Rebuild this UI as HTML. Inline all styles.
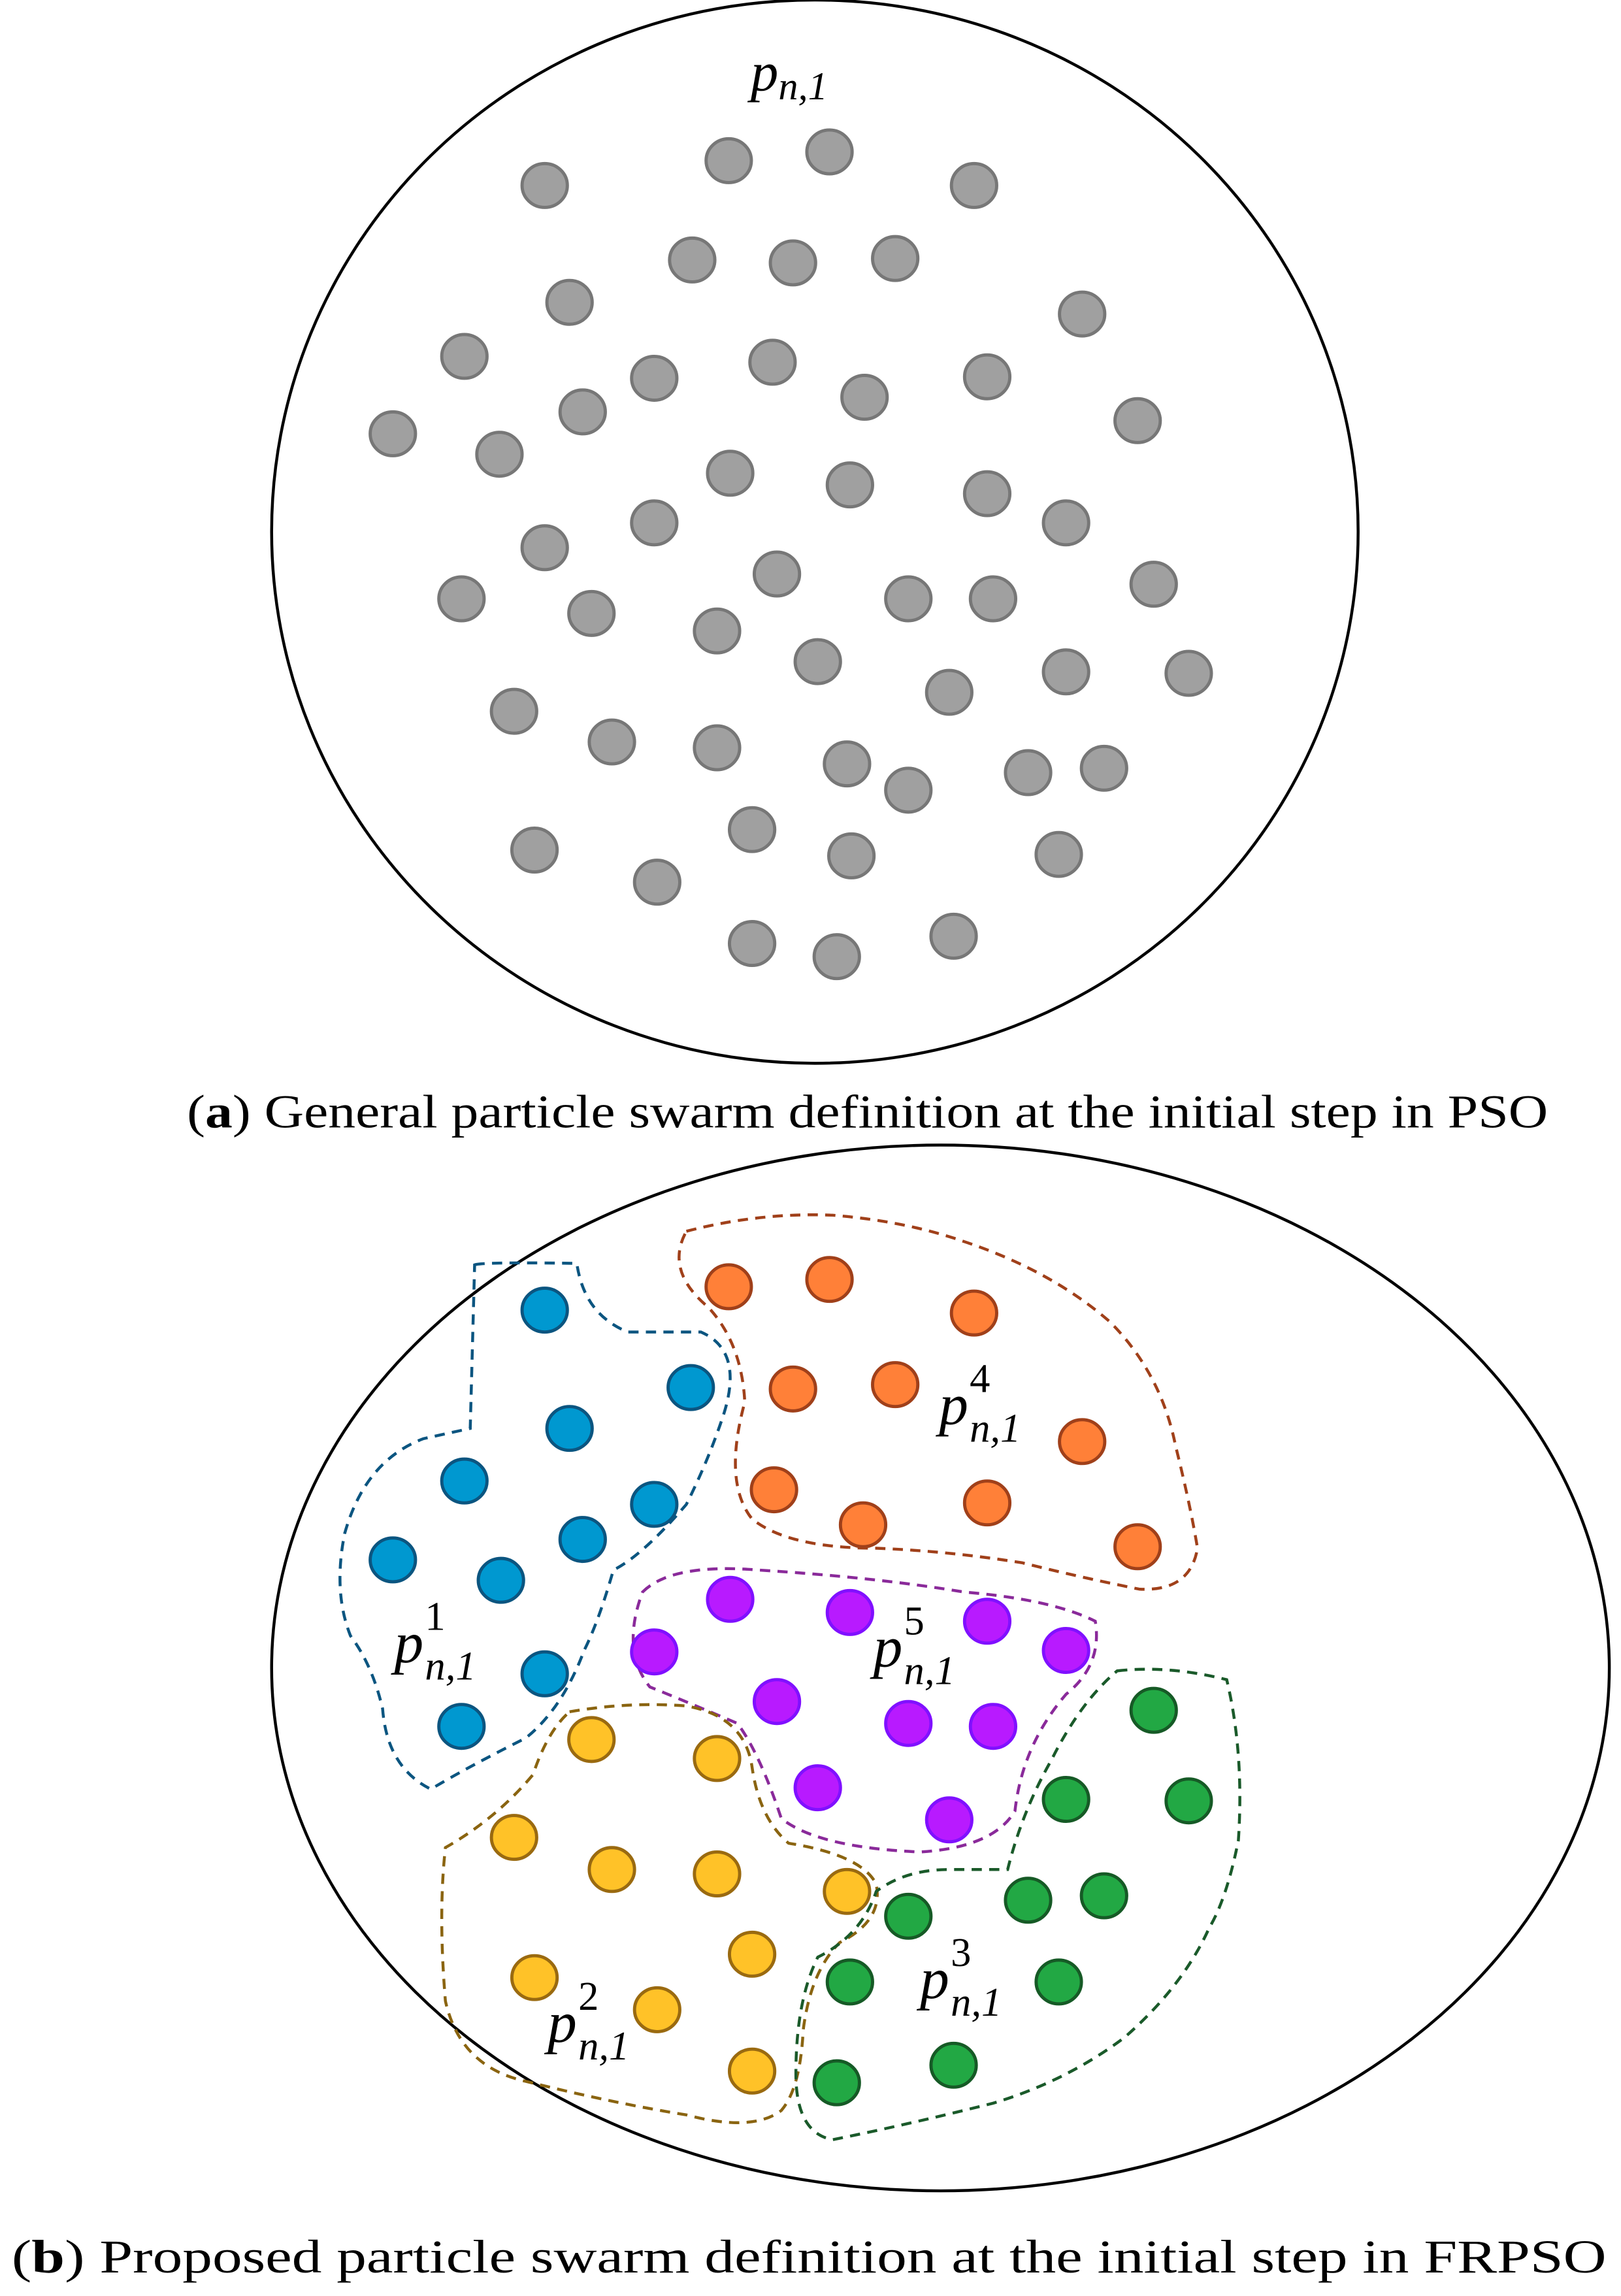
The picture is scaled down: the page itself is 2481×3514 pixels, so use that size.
<!DOCTYPE html>
<html><head><meta charset="utf-8"><style>
html,body{margin:0;padding:0;background:#fff;}
svg{display:block;}
text{font-family:"Liberation Serif","DejaVu Serif",serif;}
</style></head><body>
<svg width="2481" height="3514" viewBox="0 0 1110 1572" preserveAspectRatio="none" xmlns="http://www.w3.org/2000/svg">
<g id="panelA">
<ellipse cx="558" cy="364" rx="372" ry="364" fill="none" stroke="#000" stroke-width="2"/>
<g id="grayP"></g>
<text x="514" y="62" font-size="38" font-style="italic">p<tspan font-size="27" dy="6">n,1</tspan></text>
<text x="128" y="772" font-size="32" textLength="932" lengthAdjust="spacingAndGlyphs">(<tspan font-weight="bold">a</tspan>) General particle swarm definition at the initial step in PSO</text>
</g>
<g id="panelB">
<ellipse cx="644" cy="1142" rx="458" ry="358" fill="none" stroke="#000" stroke-width="2"/>
<g fill="none" stroke-width="2" stroke-dasharray="7,5">
<path stroke="#0b5580" d="M325,866 Q330,864 395,865 Q400,900 430,912 L480,912 Q510,925 495,970 Q485,1000 470,1030 Q440,1065 420,1075 Q410,1110 400,1130 Q385,1170 360,1190 Q320,1210 295,1225 Q265,1210 262,1170 Q255,1140 240,1120 Q228,1090 236,1050 Q250,1000 290,985 L322,978 Z"/>
<path stroke="#a0401a" d="M470,843 Q520,830 570,832 Q620,836 660,850 Q720,870 760,905 Q795,940 805,990 Q815,1030 820,1060 Q815,1090 780,1088 Q740,1080 700,1070 Q650,1062 600,1060 Q540,1060 515,1040 Q495,1015 510,960 Q508,920 485,895 Q455,870 470,843 Z"/>
<path stroke="#8a2a9a" d="M440,1090 Q460,1070 520,1075 Q600,1080 660,1090 Q720,1095 750,1110 Q755,1140 730,1160 Q700,1195 695,1240 Q680,1265 630,1268 Q560,1265 535,1245 Q520,1200 505,1180 Q470,1165 445,1155 Q425,1130 440,1090 Z"/>
<path stroke="#8a6410" d="M390,1172 Q430,1165 470,1168 Q510,1175 515,1210 Q520,1245 540,1262 Q590,1270 600,1290 Q605,1315 575,1330 Q555,1350 550,1390 Q548,1430 535,1445 Q515,1460 470,1448 Q420,1440 360,1425 Q315,1415 305,1370 Q300,1310 305,1265 Q340,1245 365,1215 Q375,1185 390,1172 Z"/>
<path stroke="#1a5a2a" d="M765,1144 Q800,1140 840,1150 Q852,1200 848,1260 Q840,1300 828,1320 Q810,1360 770,1395 Q730,1425 680,1440 Q620,1455 570,1465 Q545,1460 545,1420 Q545,1370 560,1340 Q590,1325 600,1295 Q620,1280 650,1280 L690,1280 Q700,1240 720,1205 Q740,1165 765,1144 Z"/>
</g>
<g id="colP"></g>
<g font-size="40" font-style="italic">
<text x="270" y="1138">p<tspan font-size="28" dx="1" dy="-22" font-style="normal">1</tspan><tspan font-size="28" dx="-14" dy="34">n,1</tspan></text>
<text x="375" y="1398">p<tspan font-size="28" dx="1" dy="-22" font-style="normal">2</tspan><tspan font-size="28" dx="-14" dy="34">n,1</tspan></text>
<text x="630" y="1368">p<tspan font-size="28" dx="1" dy="-22" font-style="normal">3</tspan><tspan font-size="28" dx="-14" dy="34">n,1</tspan></text>
<text x="643" y="975">p<tspan font-size="28" dx="1" dy="-22" font-style="normal">4</tspan><tspan font-size="28" dx="-14" dy="34">n,1</tspan></text>
<text x="598" y="1141">p<tspan font-size="28" dx="1" dy="-22" font-style="normal">5</tspan><tspan font-size="28" dx="-14" dy="34">n,1</tspan></text>
</g>
<text x="8" y="1556" font-size="32" textLength="1092" lengthAdjust="spacingAndGlyphs">(<tspan font-weight="bold">b</tspan>) Proposed particle swarm definition at the initial step in FRPSO</text>
</g>
</svg>
<script>
const grayX=[373,499,568,667,474,543,613,390,741,318,529,448,592,676,269,399,342,779,500,582,676,448,730,373,532,316,405,622,680,790,491,560,650,730,814,352,419,491,580,622,704,756,366,515,583,725,450,515,573,653];
const grayY=[127,110,104,127,178,180,177,207,215,244,248,259,272,258,297,282,311,288,324,332,338,358,358,375,393,410,420,410,410,400,432,453,474,460,461,487,508,512,523,541,529,526,582,568,586,585,604,646,655,641];
const blueX=[373,473,390,318,448,399,269,343,373,316];
const blueY=[897,950,978,1014,1030,1054,1068,1082,1146,1182];
const orangeX=[499,568,667,543,613,741,530,591,676,779];
const orangeY=[881,876,899,951,948,987,1020,1044,1029,1059];
const purpleX=[500,582,676,448,730,532,622,680,560,650];
const purpleY=[1095,1104,1110,1131,1130,1165,1180,1182,1224,1246];
const yellowX=[405,491,352,419,491,580,515,366,450,515];
const yellowY=[1191,1204,1258,1280,1283,1295,1338,1354,1376,1418];
const greenX=[790,730,814,622,704,756,582,725,653,573];
const greenY=[1171,1232,1233,1312,1301,1298,1357,1357,1414,1426];
const NS="http://www.w3.org/2000/svg";
function draw(g,xs,ys,fill,stroke,name){
  for(let i=0;i<xs.length;i++){
    const e=document.createElementNS(NS,'ellipse');
    e.setAttribute('cx',xs[i]);e.setAttribute('cy',ys[i]);
    e.setAttribute('rx',15.5);e.setAttribute('ry',15);
    e.setAttribute('fill',fill);e.setAttribute('stroke',stroke);e.setAttribute('stroke-width',2.2);
    
    
    g.appendChild(e);
  }
}
draw(document.getElementById('grayP'),grayX,grayY,'#a0a0a0','#777','gray-particle');
const cp=document.getElementById('colP');
draw(cp,blueX,blueY,'#0098d0','#0b5580','blue-particle');
draw(cp,orangeX,orangeY,'#ff8038','#a0401a','orange-particle');
draw(cp,purpleX,purpleY,'#b81aff','#8010ff','purple-particle');
draw(cp,yellowX,yellowY,'#ffc228','#9a6a10','yellow-particle');
draw(cp,greenX,greenY,'#22a844','#165a26','green-particle');
</script>
</body></html>
